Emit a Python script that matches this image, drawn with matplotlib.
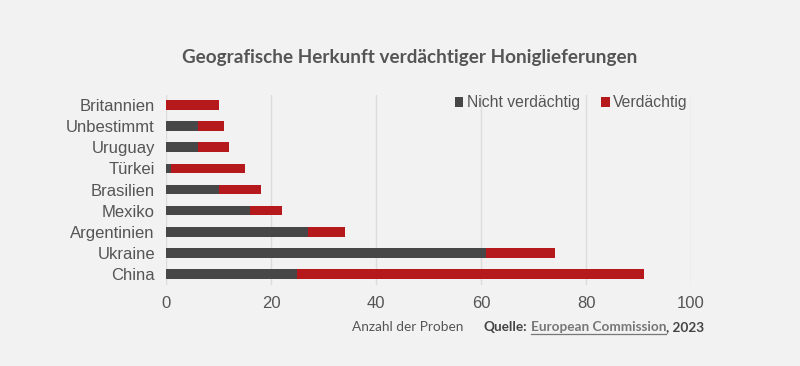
import matplotlib
matplotlib.use('Agg')
import matplotlib.pyplot as plt
from matplotlib.lines import Line2D
import numpy as np

# ================ DATA ===================
LAENDER = ['Britannien', 'Unbestimmt', 'Uruguay', 'Türkei', 'Brasilien',
           'Mexiko', 'Argentinien', 'Ukraine', 'China']
NICHT_VERDAECHTIG = [0, 6, 6, 1, 10, 16, 27, 61, 25]
VERDAECHTIG = [10, 5, 6, 14, 8, 6, 7, 13, 66]
XTICKS = [0, 20, 40, 60, 80, 100]

BG = '#f2f2f2'
COLORS = [grey, red] = ['#474747', '#b5191b']
TXT = '#555555'

fig = plt.figure(figsize=(8, 3.66), dpi=100, facecolor=BG)
ax = fig.add_axes([166/800, 1-284.5/366, (691-166)/800, (284.5-94.5)/366])
ax.set_facecolor(BG)

y = np.arange(len(LAENDER))
ax.barh(y, NICHT_VERDAECHTIG, height=0.46, color=grey, label='Nicht verdächtig', zorder=3)
ax.barh(y, VERDAECHTIG, left=NICHT_VERDAECHTIG, height=0.46, color=red, label='Verdächtig', zorder=3)

ax.set_ylim(len(LAENDER)-0.5, -0.5)
ax.set_xlim(0, 100)
ax.set_xticks(XTICKS)
ax.set_yticks(y)
ax.set_yticklabels(LAENDER)
ax.grid(axis='x', color='#dcdcdc', linewidth=1, zorder=0)
for s in ax.spines.values():
    s.set_visible(False)
ax.tick_params(axis='both', length=0, labelsize=12, labelcolor=TXT, pad=8)
ax.tick_params(axis='x', pad=8)
for lab in ax.get_xticklabels() + ax.get_yticklabels():
    lab.set_fontfamily('Liberation Sans')

leg = ax.legend(loc='upper right', bbox_to_anchor=(0.993, 0.995), ncol=2, frameon=False,
                borderpad=0, borderaxespad=0,
                handlelength=0.55, handleheight=0.55, handletextpad=0.2, columnspacing=1.35,
                prop={'family': 'Liberation Sans', 'size': 11.3})
for t in leg.get_texts():
    t.set_color(TXT)

fig.text(410/800, 1-58/366, 'Geografische Herkunft verdächtiger Honiglieferungen',
         ha='center', va='center', fontsize=13.6, fontweight='bold', color=TXT, family='Lato')

fig.text(352/800, 1-327/366, 'Anzahl der Proben', ha='left', va='center',
         fontsize=9.8, color=TXT, family='Lato')

# Quelle mit unterstrichenem Link
renderer = fig.canvas.get_renderer()
x0 = 483
parts = [('Quelle:', '#444444', False), ('European Commission', '#777777', True), (', 2023', '#444444', False)]
for i, (txt, col, ul) in enumerate(parts):
    t = fig.text(x0/800, 1-327/366, txt, ha='left', va='center', fontsize=9.8,
                 fontweight='bold', color=col, family='Lato')
    bb = t.get_window_extent(renderer)
    if ul:
        yline = 1-334/366
        fig.add_artist(Line2D([bb.x0/800, bb.x1/800], [yline, yline], color=col, linewidth=0.9))
    x0 = bb.x1 + (4 if i == 0 else 0)

fig.savefig('out.png', dpi=100, facecolor=BG)
